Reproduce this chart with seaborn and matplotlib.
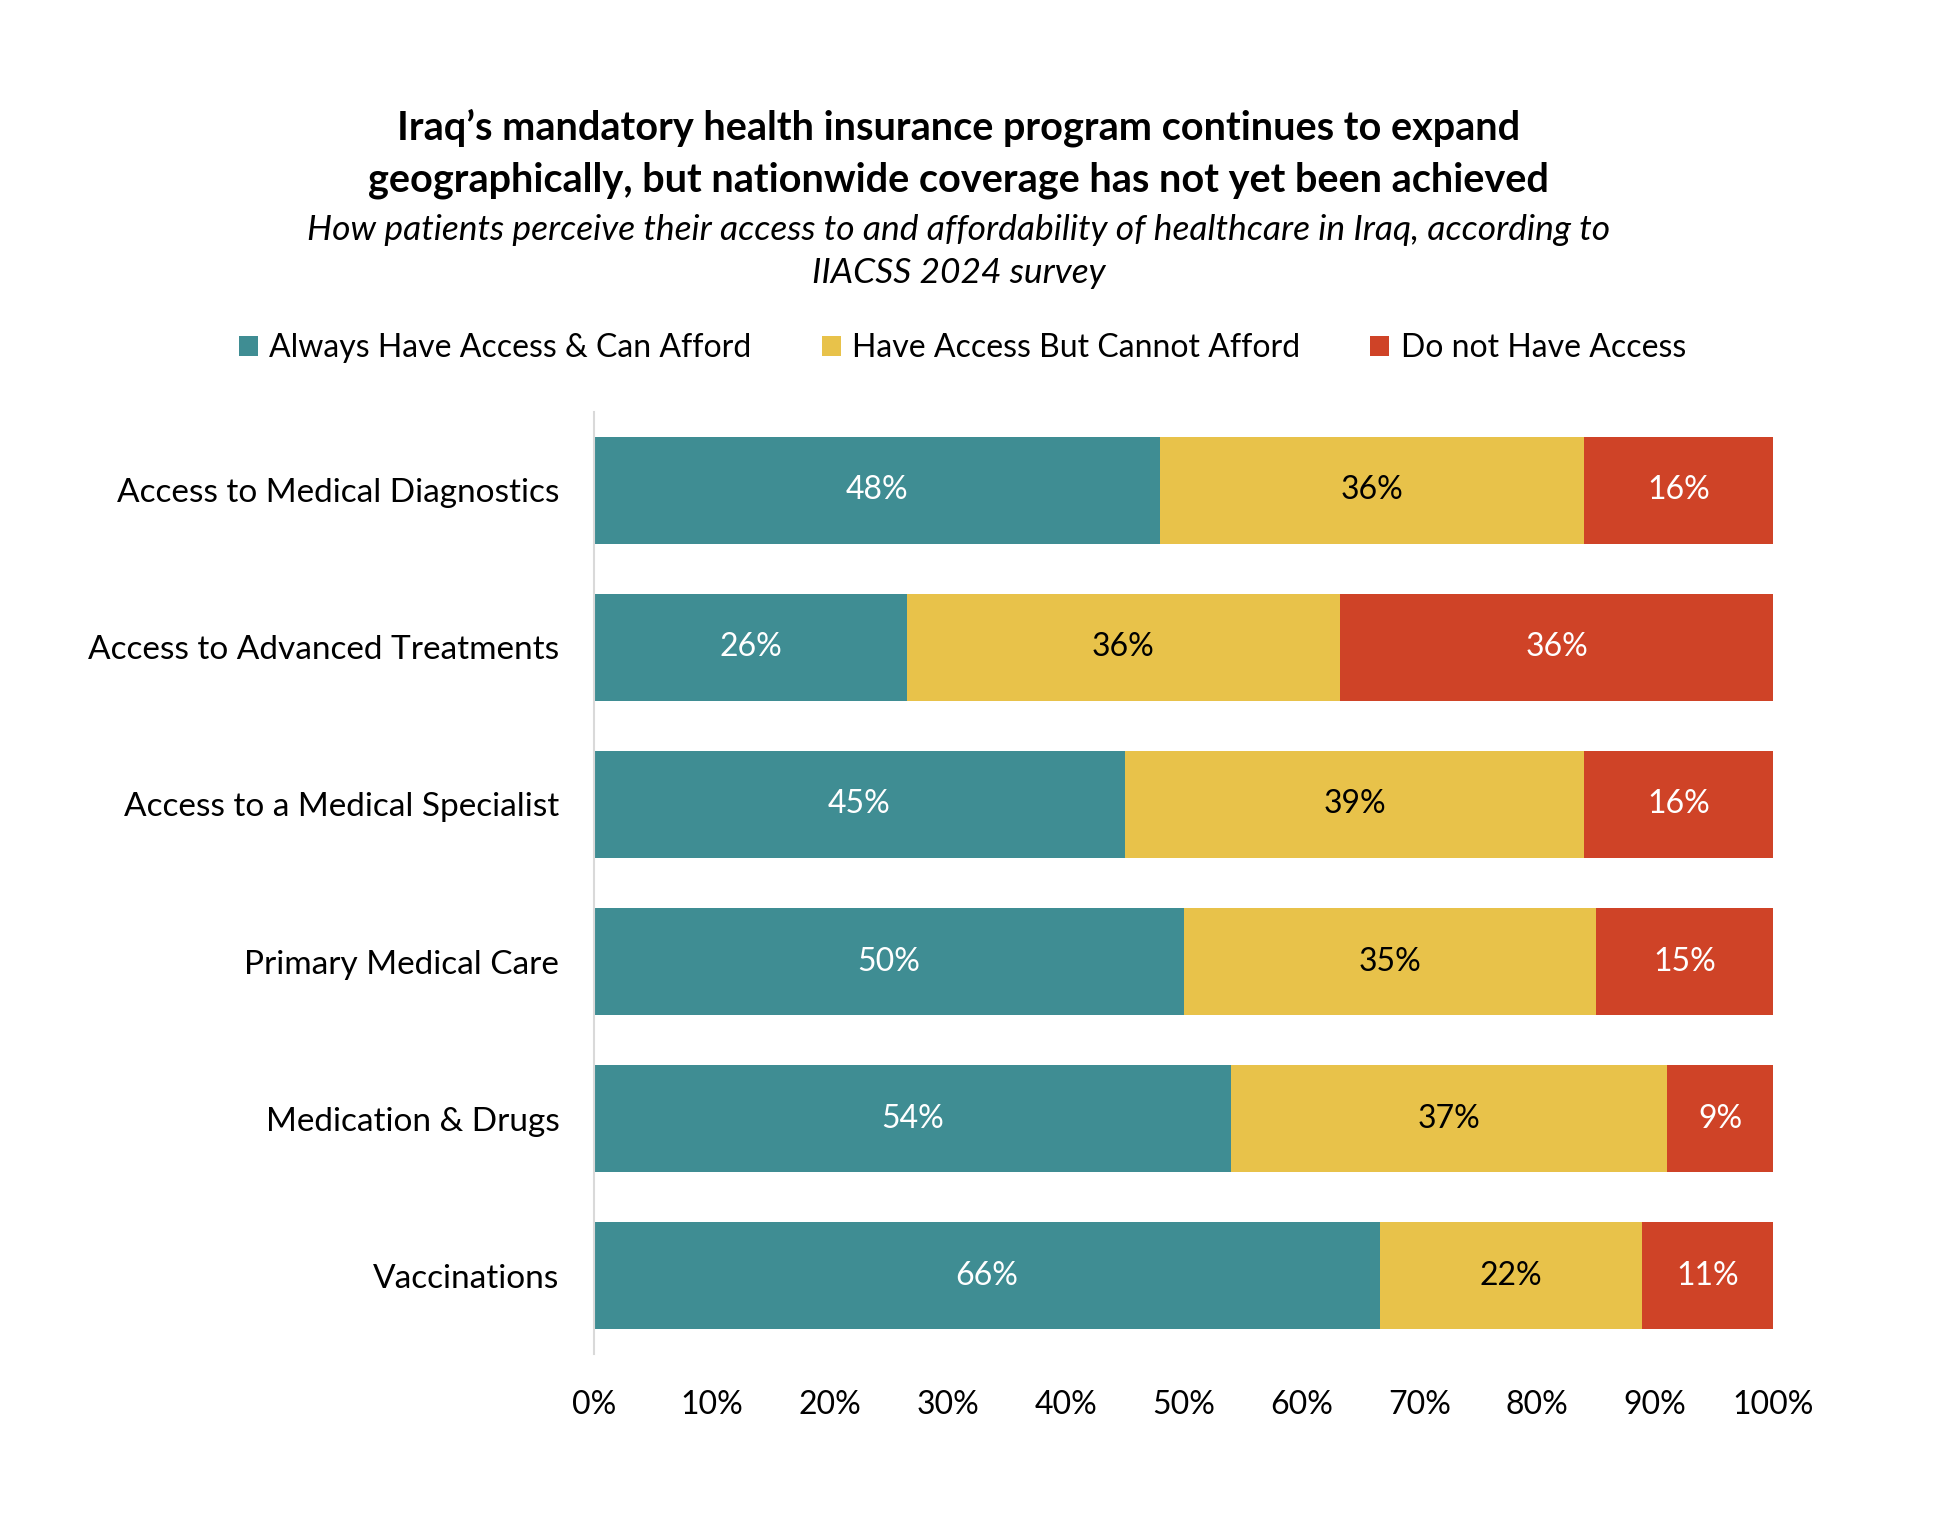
import numpy as np
import pandas as pd
import matplotlib
matplotlib.use("Agg")
import matplotlib.pyplot as plt
import seaborn as sns
from matplotlib.patches import Patch

# Survey answers (percent, as labelled on the chart)
categories = ["Access to Medical Diagnostics", "Access to Advanced Treatments",
              "Access to a Medical Specialist", "Primary Medical Care",
              "Medication & Drugs", "Vaccinations"]
always_afford = [48, 26, 45, 50, 54, 66]
cannot_afford = [36, 36, 39, 35, 37, 22]
no_access = [16, 36, 16, 15, 9, 11]
series_names = ["Always Have Access & Can Afford", "Have Access But Cannot Afford", "Do not Have Access"]
tick_labels = ["0%", "10%", "20%", "30%", "40%", "50%", "60%", "70%", "80%", "90%", "100%"]

colors = ["#3F8D93", "#E8C24A", "#CF4327"]
text_colors = ["white", "black", "white"]

# Build table, normalise each row to 100%
df = pd.DataFrame({"Category": categories,
                   series_names[0]: always_afford,
                   series_names[1]: cannot_afford,
                   series_names[2]: no_access})
raw = df[series_names].to_numpy(dtype=float)
share = raw / raw.sum(axis=1, keepdims=True) * 100
cum = np.cumsum(share, axis=1)

sns.set_theme(style="white")
plt.rcParams["font.family"] = ["Lato", "DejaVu Sans"]
plt.rcParams["text.color"] = "black"

fig = plt.figure(figsize=(19.44, 15.24), dpi=100)
ax = fig.add_axes([0.3056, 0.1115, 0.6065, 0.6182])

# Stacked bars: draw cumulative totals from largest to smallest
for j in [2, 1, 0]:
    sns.barplot(x=cum[:, j], y=categories, orient="h", color=colors[j],
                width=0.686, saturation=1, ax=ax, linewidth=0)

# Value labels
for i in range(len(categories)):
    left = 0
    for j in range(3):
        ax.text(left + share[i, j] / 2, i, f"{int(raw[i, j])}%", ha="center", va="center",
                color=text_colors[j], fontsize=23)
        left = cum[i, j]

ax.set_xlim(0, 100)
ax.set_ylim(5.5, -0.5)
ax.set_xticks(np.arange(0, 101, 10))
ax.set_xticklabels(tick_labels)
ax.set_xlabel("")
ax.set_ylabel("")
ax.tick_params(axis="x", length=0, pad=26, labelsize=23, colors="black")
ax.tick_params(axis="y", length=0, pad=25, labelsize=24, colors="black")
for s in ["top", "right", "bottom"]:
    ax.spines[s].set_visible(False)
ax.spines["left"].set_color("#D9D9D9")
ax.spines["left"].set_linewidth(1.5)
ax.grid(False)

# Titles
fig.text(0.493, 0.916, "Iraq\u2019s mandatory health insurance program continues to expand",
         ha="center", va="center", fontsize=28.5, fontweight="bold", color="black")
fig.text(0.493, 0.882, "geographically, but nationwide coverage has not yet been achieved",
         ha="center", va="center", fontsize=28.5, fontweight="bold", color="black")
fig.text(0.493, 0.849, "How patients perceive their access to and affordability of healthcare in Iraq, according to",
         ha="center", va="center", fontsize=25.5, style="italic", color="black")
fig.text(0.493, 0.821, "IIACSS 2024 survey",
         ha="center", va="center", fontsize=25.5, style="italic", color="black")

# Legend
handles = [Patch(facecolor=c, edgecolor="none") for c in colors]
fig.legend(handles, series_names, loc="center", bbox_to_anchor=(0.495, 1 - 348 / 1524),
           ncol=3, frameon=False, fontsize=23, handlelength=0.6, handleheight=0.6,
           handletextpad=0.35, columnspacing=2.2, labelcolor="black")

plt.savefig("out.png", dpi=100)
